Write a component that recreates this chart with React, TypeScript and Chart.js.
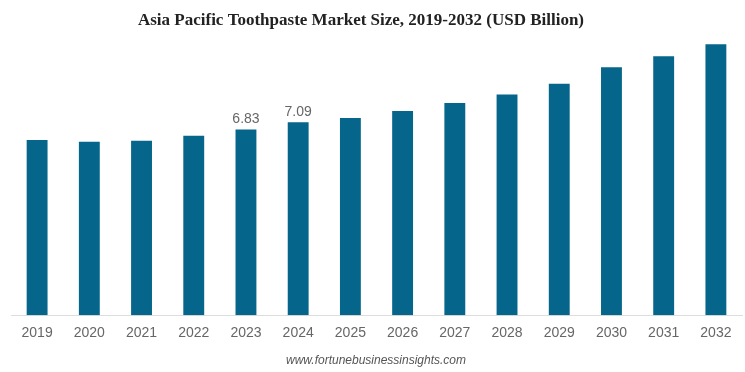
import React, { useEffect, useRef } from "react";
import { Chart, registerables } from "chart.js";

Chart.register(...registerables);

const years = ["2019", "2020", "2021", "2022", "2023", "2024", "2025", "2026", "2027", "2028", "2029", "2030", "2031", "2032"];
const marketSize = [6.44, 6.38, 6.41, 6.6, 6.83, 7.09, 7.25, 7.51, 7.8, 8.11, 8.51, 9.12, 9.52, 9.96];
const labelledYears = ["2023", "2024"];
const titleText = "Asia Pacific Toothpaste Market Size, 2019-2032 (USD Billion)";
const footerText = "www.fortunebusinessinsights.com";

const overlayPlugin = {
  id: "overlay",
  afterDatasetsDraw(chart: any) {
    const ctx = chart.ctx;
    const meta = chart.getDatasetMeta(0);
    ctx.save();
    ctx.fillStyle = "#666666";
    ctx.font = "14px 'Liberation Sans', Arial, sans-serif";
    ctx.textAlign = "center";
    ctx.textBaseline = "bottom";
    meta.data.forEach((bar: any, i: number) => {
      if (labelledYears.includes(years[i])) {
        ctx.fillText(marketSize[i].toFixed(2), bar.x, bar.y - 3);
      }
    });
    ctx.restore();
  },
  afterDraw(chart: any) {
    const ctx = chart.ctx;
    ctx.save();
    ctx.fillStyle = "#222222";
    ctx.font = "bold 17px 'Liberation Serif', 'Times New Roman', serif";
    ctx.textAlign = "center";
    ctx.textBaseline = "alphabetic";
    ctx.fillText(titleText, 361, 25);
    ctx.fillStyle = "#555555";
    ctx.font = "italic 12px 'Liberation Sans', Arial, sans-serif";
    ctx.textBaseline = "middle";
    ctx.fillText(footerText, 376, 361);
    ctx.restore();
  },
};

export default function App() {
  const canvasRef = useRef<HTMLCanvasElement | null>(null);

  useEffect(() => {
    document.body.style.margin = "0";
    const canvas = canvasRef.current;
    if (!canvas) return;
    const chart = new Chart(canvas, {
      type: "bar",
      data: {
        labels: years,
        datasets: [
          {
            data: marketSize,
            backgroundColor: "#05658A",
            barPercentage: 0.8,
            categoryPercentage: 0.5,
          },
        ],
      },
      options: {
        responsive: false,
        animation: false,
        layout: { padding: { top: 29.6, left: 11, right: 3, bottom: 20 } },
        plugins: {
          legend: { display: false },
          title: { display: false },
          tooltip: { enabled: false },
        },
        scales: {
          x: {
            grid: { display: false, drawTicks: false },
            border: { display: true, color: "#dddddd", width: 1 },
            ticks: {
              color: "#666666",
              padding: 10,
              font: { size: 14, family: "'Liberation Sans', Arial, sans-serif" },
              maxRotation: 0,
              autoSkip: false,
            },
          },
          y: {
            display: false,
            min: 0,
            max: 10.5,
          },
        },
      },
      plugins: [overlayPlugin],
    });
    return () => chart.destroy();
  }, []);

  return (
    <div style={{ width: 745, height: 372 }}>
      <canvas ref={canvasRef} width={745} height={372} style={{ display: "block" }} />
    </div>
  );
}
